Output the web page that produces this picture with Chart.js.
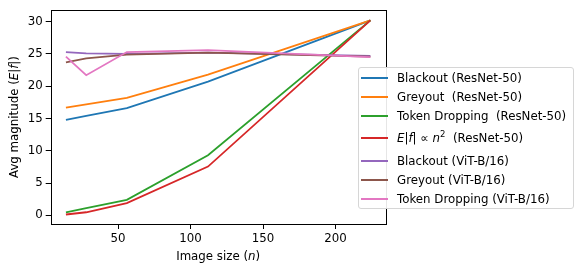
<!DOCTYPE html>
<html>
<head>
<meta charset="utf-8">
<script src="https://cdn.jsdelivr.net/npm/chart.js@4/dist/chart.umd.min.js"></script>
<style>
  html, body { margin: 0; padding: 0; background: #fff; }
  #wrap { position: relative; width: 580px; height: 272px; }
  #legend {
    position: absolute; left: 358px; top: 67px; width: 214px; height: 140px;
    border: 1px solid #d6d6d6; border-radius: 3px; background: rgba(255,255,255,0.9);
    font-family: "DejaVu Sans", sans-serif; font-size: 11.8px; color: #000;
  }
  .row { position: relative; height: 19px; display: flex; align-items: center; white-space: pre; }
  .row.tall { height: 26px; }
  .handle { width: 27px; height: 2px; margin-left: 2px; margin-right: 9px; }
  sup { font-size: 8.5px; line-height: 0; vertical-align: 5px; }
</style>
</head>
<body>
<div id="wrap">
  <canvas id="c" width="580" height="272"></canvas>
  <div id="legend"></div>
</div>
<script>
// image sizes (x) shared by every series
const sizes = [14, 28, 56, 112, 224];

const seriesLabels = [
  "Blackout (ResNet-50)",
  "Greyout  (ResNet-50)",
  "Token Dropping  (ResNet-50)",
  "E|f| ∝ n²  (ResNet-50)",
  "Blackout (ViT-B/16)",
  "Greyout (ViT-B/16)",
  "Token Dropping (ViT-B/16)"
];

const blackoutResnet = [14.8, 15.4, 16.6, 20.7, 30.2];
const greyoutResnet = [16.7, 17.2, 18.2, 21.8, 30.2];
const tokenDropResnet = [0.45, 1.1, 2.4, 9.3, 30.2];
const quadraticRef = [0.12, 0.47, 1.89, 7.55, 30.2];
const blackoutVit = [25.3, 25.1, 25.0, 25.2, 24.7];
const greyoutVit = [23.7, 24.3, 24.9, 25.2, 24.6];
const tokenDropVit = [24.6, 21.7, 25.3, 25.6, 24.5];

const xTicks = [50, 100, 150, 200];
const yTicks = [0, 5, 10, 15, 20, 25, 30];

const colors = ["#1f77b4", "#ff7f0e", "#2ca02c", "#d62728", "#9467bd", "#8c564b", "#e377c2"];
const allValues = [blackoutResnet, greyoutResnet, tokenDropResnet, quadraticRef, blackoutVit, greyoutVit, tokenDropVit];

const FONT = "DejaVu Sans";

const datasets = allValues.map((vals, i) => ({
  label: seriesLabels[i],
  data: sizes.map((x, j) => ({ x: x, y: vals[j] })),
  borderColor: colors[i],
  backgroundColor: colors[i],
  borderWidth: 1.8,
  pointRadius: 0,
  tension: 0,
  order: allValues.length - i
}));

// draw text made of normal/italic pieces, centred on (x, y)
function richText(ctx, parts, x, y, angle) {
  ctx.save();
  ctx.translate(x, y);
  ctx.rotate(angle);
  ctx.fillStyle = "#000";
  ctx.textBaseline = "middle";
  ctx.textAlign = "left";
  let total = 0;
  parts.forEach(p => {
    ctx.font = (p.i ? "oblique " : "") + "11.8px '" + FONT + "'";
    p.w = ctx.measureText(p.t).width;
    total += p.w;
  });
  let cx = -total / 2;
  parts.forEach(p => {
    ctx.font = (p.i ? "oblique " : "") + "11.8px '" + FONT + "'";
    ctx.fillText(p.t, cx, 0);
    cx += p.w;
  });
  ctx.restore();
}

const framePlugin = {
  id: "frame",
  afterDraw(chart) {
    const { ctx, chartArea: a } = chart;
    ctx.save();
    ctx.strokeStyle = "#000";
    ctx.lineWidth = 1;
    ctx.strokeRect(Math.round(a.left) + 0.5, Math.round(a.top) + 0.5,
      Math.round(a.right - a.left), Math.round(a.bottom - a.top));
    ctx.restore();
    richText(ctx, [{ t: "Image size (" }, { t: "n", i: true }, { t: ")" }],
      (a.left + a.right) / 2, 257, 0);
    richText(ctx, [{ t: "Avg magnitude (" }, { t: "E", i: true }, { t: "|" }, { t: "f", i: true }, { t: "|)" }],
      14.5, (a.top + a.bottom) / 2, -Math.PI / 2);
  }
};

new Chart(document.getElementById("c"), {
  type: "line",
  data: { datasets: datasets },
  options: {
    responsive: false,
    animation: false,
    layout: { padding: { top: 6, right: 194.4, left: 0, bottom: 0 } },
    plugins: { legend: { display: false }, tooltip: { enabled: false } },
    scales: {
      x: {
        type: "linear",
        min: 3.5,
        max: 234.5,
        afterBuildTicks: s => { s.ticks = xTicks.map(v => ({ value: v })); },
        afterFit: s => { s.height = 48; },
        grid: { drawOnChartArea: false, drawTicks: true, tickLength: 5, tickColor: "#000", lineWidth: 1 },
        border: { display: false },
        ticks: { color: "#000", padding: 3, maxRotation: 0, font: { family: FONT, size: 11.8 } }
      },
      y: {
        min: -1.35,
        max: 31.8,
        afterBuildTicks: s => { s.ticks = yTicks.map(v => ({ value: v })); },
        afterFit: s => { s.width = 50.7; },
        grid: { drawOnChartArea: false, drawTicks: true, tickLength: 5, tickColor: "#000", lineWidth: 1 },
        border: { display: false },
        ticks: { color: "#000", padding: 3, font: { family: FONT, size: 11.8 } }
      }
    }
  },
  plugins: [framePlugin]
});

// legend drawn over the plot, like the original
const legend = document.getElementById("legend");
seriesLabels.forEach((lab, i) => {
  const row = document.createElement("div");
  row.className = "row";
  const h = document.createElement("span");
  h.className = "handle";
  h.style.background = colors[i];
  row.appendChild(h);
  const t = document.createElement("span");
  if (lab.startsWith("E|f|")) {
    row.classList.add("tall");
    t.innerHTML = "<i>E</i>|<i>f</i>| ∝ <i>n</i><sup>2</sup>" + lab.slice(lab.indexOf("  "));
  } else {
    t.textContent = lab;
  }
  row.appendChild(t);
  legend.appendChild(row);
});
</script>
</body>
</html>
